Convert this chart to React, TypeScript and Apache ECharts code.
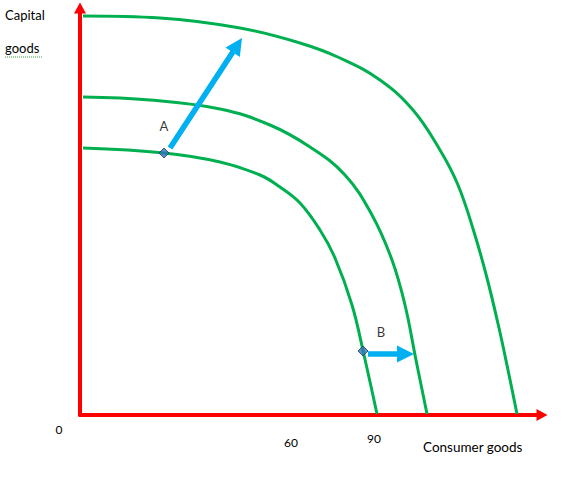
import React, { useEffect, useRef } from "react";
import * as echarts from "echarts";

// Production possibility frontiers (x: consumer goods, y: capital goods), chart units
const innerX = [3, 84, 140, 180, 200, 220, 240, 255, 272, 284, 297];
const innerY = [267, 262, 253, 240, 228, 212, 185, 157, 110, 60, 1];
const middleX = [3, 70, 140, 190, 230, 265, 292, 312, 325, 336, 347];
const middleY = [318, 315, 306, 290, 268, 240, 200, 155, 110, 55, 1];
const outerX = [3, 80, 160, 220, 260, 300, 333, 360, 378, 394, 407, 419, 428, 437];
const outerY = [399, 397, 387, 372, 357, 335, 305, 265, 230, 183, 137, 87, 45, 1];

// Points A and B on the inner frontier
const pointNames = ["A", "B"];
const pointX = [84, 283];
const pointY = [262, 64];

// Shift arrows: [fromX, fromY, toX, toY]
const arrowA = [90, 267, 162, 377];
const arrowB = [288, 61, 334, 61];

const axisMaxX = 462;
const axisMaxY = 407;

const yAxisTitle = ["Capital", "goods"];
const xAxisTitle = "Consumer goods";
const tickTexts = ["0", "60", "90"];

const zip = (xs: number[], ys: number[]) => xs.map((x, i) => [x, ys[i]]);

const FONT = "Lato, 'Open Sans', sans-serif";

export default function App() {
  const ref = useRef<HTMLDivElement>(null);
  useEffect(() => {
    document.body.style.margin = "0";
    const chart = echarts.init(ref.current!, undefined, { renderer: "svg" });
    const green = "#00b050";
    const curve = (name: string, xs: number[], ys: number[]) => ({
      name,
      type: "line",
      data: zip(xs, ys),
      smooth: 0.4,
      showSymbol: false,
      symbol: "none",
      lineStyle: { color: green, width: 3 },
      z: 3,
    });
    const axisLine = {
      show: true,
      onZero: false,
      lineStyle: { color: "#ff0000", width: 4 },
      symbol: ["none", "triangle"],
      symbolSize: [12, 11],
    };
    chart.setOption({
      animation: false,
      grid: { left: 80, right: 23, top: 8, bottom: 62, containLabel: false },
      xAxis: {
        type: "value",
        min: 0,
        max: axisMaxX,
        axisLine,
        axisTick: { show: false },
        axisLabel: { show: false },
        splitLine: { show: false },
      },
      yAxis: {
        type: "value",
        min: 0,
        max: axisMaxY,
        axisLine,
        axisTick: { show: false },
        axisLabel: { show: false },
        splitLine: { show: false },
      },
      series: [
        curve("inner", innerX, innerY),
        curve("middle", middleX, middleY),
        curve("outer", outerX, outerY),
        {
          type: "custom",
          name: "shifts",
          data: [arrowA, arrowB],
          z: 4,
          renderItem: (params: any, api: any) => {
            const p1 = api.coord([api.value(0), api.value(1)]);
            const p2 = api.coord([api.value(2), api.value(3)]);
            const dx = p2[0] - p1[0];
            const dy = p2[1] - p1[1];
            const len = Math.sqrt(dx * dx + dy * dy);
            const ux = dx / len;
            const uy = dy / len;
            const nx = -uy;
            const ny = ux;
            const sw = 2.8;
            const hl = 17;
            const hw = 8.5;
            const bx = p2[0] - ux * hl;
            const by = p2[1] - uy * hl;
            const pts = [
              [p1[0] + nx * sw, p1[1] + ny * sw],
              [bx + nx * sw, by + ny * sw],
              [bx + nx * hw, by + ny * hw],
              [p2[0], p2[1]],
              [bx - nx * hw, by - ny * hw],
              [bx - nx * sw, by - ny * sw],
              [p1[0] - nx * sw, p1[1] - ny * sw],
            ];
            return {
              type: "polygon",
              shape: { points: pts },
              style: { fill: "#00b0f0" },
            };
          },
        },
        {
          type: "scatter",
          name: "points",
          z: 5,
          symbol: "diamond",
          symbolSize: [10, 10],
          itemStyle: { color: "#2e75b6", borderColor: "#1f3864", borderWidth: 1 },
          data: pointNames.map((n, i) => ({
            name: n,
            value: [pointX[i], pointY[i]],
            label: {
              show: true,
              formatter: n,
              position: "top",
              offset: i === 0 ? [0, -10] : [18, -2],
              color: "#000",
              fontSize: 13,
              fontFamily: FONT,
            },
          })),
        },
      ],
      graphic: [
        { type: "text", left: 5, top: 8, style: { text: yAxisTitle[0], fontSize: 13, fontFamily: FONT, fill: "#000" } },
        { type: "text", left: 5, top: 41, style: { text: yAxisTitle[1], fontSize: 13, fontFamily: FONT, fill: "#000" } },
        {
          type: "line",
          shape: { x1: 5, y1: 57, x2: 43, y2: 57 },
          style: { stroke: "#3c9a3c", lineWidth: 1, lineDash: [1, 1] },
        },
        { type: "text", x: 59, y: 429, style: { text: tickTexts[0], fontSize: 12, fontFamily: FONT, fill: "#000", align: "center", verticalAlign: "middle" } },
        { type: "text", x: 291, y: 442, style: { text: tickTexts[1], fontSize: 12, fontFamily: FONT, fill: "#000", align: "center", verticalAlign: "middle" } },
        { type: "text", x: 374, y: 438, style: { text: tickTexts[2], fontSize: 12, fontFamily: FONT, fill: "#000", align: "center", verticalAlign: "middle" } },
        { type: "text", x: 423, y: 447, style: { text: xAxisTitle, fontSize: 13.5, fontFamily: FONT, fill: "#000", verticalAlign: "middle" } },
      ],
    });
    return () => chart.dispose();
  }, []);
  return <div ref={ref} style={{ width: 565, height: 477 }} />;
}
